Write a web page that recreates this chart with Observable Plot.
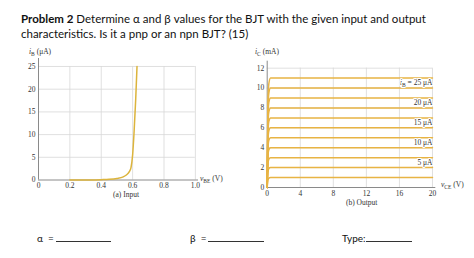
<!DOCTYPE html>
<html><head><meta charset="utf-8">
<script src="https://cdn.jsdelivr.net/npm/d3@7"></script>
<script src="https://cdn.jsdelivr.net/npm/@observablehq/plot@0.6"></script>
<style>
body{margin:0;background:#fff;}
#wrap{position:relative;width:474px;height:258px;overflow:hidden;background:#fff;}
.abs{position:absolute;white-space:nowrap;line-height:1;}
.title{font-family:Lato,"Open Sans",sans-serif;font-size:11.5px;color:#111;line-height:15px;left:21px;top:11px;}
.ser{font-family:"Liberation Serif",serif;font-size:7.5px;color:#333;}
.ser sub{font-size:5.5px;vertical-align:-1.5px;}
.ans{font-family:Lato,sans-serif;font-size:10px;color:#111;}
.uline{position:absolute;border-bottom:1px solid #333;height:0;}
#p1{position:absolute;left:0;top:40px;width:240px;height:170px;}
#p2{position:absolute;left:230px;top:40px;width:244px;height:170px;}
#p1 svg,#p2 svg{display:block;}
</style></head>
<body><div id="wrap">
<div class="abs title"><b>Problem 2</b> Determine α and β values for the BJT with the given input and output<br>characteristics. Is it a pnp or an npn BJT? (15)</div>
<div id="p1"></div>
<div id="p2"></div>
<div class="abs ser" style="left:29px;top:48px;"><i>i</i><sub>B</sub> (μA)</div>
<div class="abs ser" style="left:200px;top:175px;"><i>v</i><sub>BE</sub> (V)</div>
<div class="abs ser" style="left:113px;top:191px;">(a) Input</div>
<div class="abs ser" style="left:255px;top:48px;"><i>i</i><sub>C</sub> (mA)</div>
<div class="abs ser" style="left:441px;top:181px;"><i>v</i><sub>CE</sub> (V)</div>
<div class="abs ser" style="left:346px;top:199px;">(b) Output</div>
<div class="abs ans" style="left:37px;top:233px;">α&nbsp;&nbsp;=</div>
<div class="uline" style="left:56px;top:241px;width:55px;"></div>
<div class="abs ans" style="left:190px;top:233px;">β&nbsp;&nbsp;=</div>
<div class="uline" style="left:208px;top:241px;width:56px;"></div>
<div class="abs ans" style="left:342px;top:233px;">Type:</div>
<div class="uline" style="left:366px;top:241px;width:46px;"></div>
</div>
<script>
// ---- Input characteristic (a) ----
const vbe     = [0.2, 0.3, 0.4, 0.45, 0.5, 0.54, 0.56, 0.58, 0.59, 0.6, 0.61, 0.62, 0.628];
const ibInput = [0,   0.02, 0.08, 0.15, 0.35, 0.7, 1.1, 1.9, 2.8, 5.5, 11, 18, 25];
const inputXTicks = [0, 0.2, 0.4, 0.6, 0.8, 1.0];
const inputYTicks = [0, 5, 10, 15, 20, 25];

// ---- Output characteristic (b) ----
const vce = [0, 0.08, 0.2, 0.4, 20];
const icCurves = [
  [0, 0.75, 0.95, 1, 1],
  [0, 1.5, 1.9, 2, 2],
  [0, 2.25, 2.85, 3, 3],
  [0, 3.0, 3.8, 4, 4],
  [0, 3.75, 4.75, 5, 5],
  [0, 4.5, 5.7, 6, 6],
  [0, 5.25, 6.65, 7, 7],
  [0, 6.0, 7.6, 8, 8],
  [0, 6.75, 8.55, 9, 9],
  [0, 7.5, 9.5, 10, 10],
  [0, 8.25, 10.45, 11, 11]
];
const outputXTicks = [0, 4, 8, 12, 16, 20];
const outputYTicks = [0, 2, 4, 6, 8, 10, 12];
const ibLabels  = ["iB = 25 μA", "20 μA", "15 μA", "10 μA", "5 μA"];
const ibLabelIc = [10.5, 8.5, 6.5, 4.5, 2.5];

const gold = "#e8b444";
const gridC = "#d8d8d8";
const axisC = "#8a8a8a";
const fontStyle = () => ({fontFamily: "'Liberation Serif', serif", fontSize: "7.5px", color: "#333", background: "transparent", overflow: "visible", maxWidth: "none"});

const inputData = vbe.map((v, i) => ({v, ib: ibInput[i]}));
const xMaxA = d3.max(inputXTicks), yMaxA = d3.max(inputYTicks);

const p1 = Plot.plot({
  width: 240, height: 170,
  marginLeft: 38, marginRight: 42, marginTop: 18, marginBottom: 30.5,
  style: fontStyle(),
  x: {domain: [0, 1.02]},
  y: {domain: [0, 26.76]},
  marks: [
    Plot.ruleY(inputYTicks.slice(1), {y: d => d, x1: () => 0, x2: () => xMaxA, stroke: gridC, strokeWidth: 0.8}),
    Plot.ruleX(inputXTicks.slice(1), {x: d => d, y1: () => 0, y2: () => yMaxA, stroke: gridC, strokeWidth: 0.8}),
    Plot.ruleX([0], {stroke: axisC}),
    Plot.ruleY([0], {stroke: axisC}),
    Plot.axisX(inputXTicks, {tickSize: 0, tickPadding: 3, label: null, tickFormat: d => d === 0 ? "0" : d.toFixed(1)}),
    Plot.axisY(inputYTicks, {tickSize: 0, tickPadding: 3, label: null}),
    Plot.line(inputData, {x: "v", y: "ib", stroke: "#dcb43c", strokeWidth: 1.5, curve: "monotone-x"})
  ]
});
document.getElementById("p1").appendChild(p1);

const outData = icCurves.flatMap((arr, k) => arr.map((ic, j) => ({vce: vce[j], ic, k})));
const xMaxB = d3.max(outputXTicks), yMaxB = d3.max(outputYTicks);

const p2 = Plot.plot({
  width: 244, height: 170,
  marginLeft: 36.7, marginRight: 38.7, marginTop: 20.7, marginBottom: 23,
  style: fontStyle(),
  x: {domain: [0, 20.4]},
  y: {domain: [0, 12.7]},
  marks: [
    Plot.ruleY(outputYTicks.slice(1), {y: d => d, x1: () => 0, x2: () => xMaxB, stroke: gridC, strokeWidth: 0.8}),
    Plot.ruleX(outputXTicks.slice(1), {x: d => d, y1: () => 0, y2: () => yMaxB, stroke: gridC, strokeWidth: 0.8}),
    Plot.ruleX([0], {stroke: axisC}),
    Plot.ruleY([0], {stroke: axisC}),
    Plot.axisX(outputXTicks, {tickSize: 0, tickPadding: 3, label: null}),
    Plot.axisY(outputYTicks, {tickSize: 0, tickPadding: 3, label: null}),
    Plot.line(outData, {x: "vce", y: "ic", z: "k", stroke: gold, strokeWidth: 1.5, curve: "monotone-x"}),
    Plot.text(ibLabels, {x: () => xMaxB, y: (d, i) => ibLabelIc[i], text: d => d, textAnchor: "end", fill: "#333", stroke: "white", strokeWidth: 2, fontSize: 7.5})
  ]
});
document.getElementById("p2").appendChild(p2);

// subscript for the iB label
p2.querySelectorAll("text").forEach(t => {
  if (t.textContent.startsWith("iB")) {
    const rest = t.textContent.slice(2);
    t.textContent = "";
    const ns = "http://www.w3.org/2000/svg";
    const a = document.createElementNS(ns, "tspan"); a.textContent = "i"; a.setAttribute("font-style", "italic");
    const b = document.createElementNS(ns, "tspan"); b.textContent = "B"; b.setAttribute("font-size", "5.5"); b.setAttribute("dy", "1.5");
    const c = document.createElementNS(ns, "tspan"); c.textContent = rest; c.setAttribute("dy", "-1.5");
    t.append(a, b, c);
  }
});
</script>
</body></html>
